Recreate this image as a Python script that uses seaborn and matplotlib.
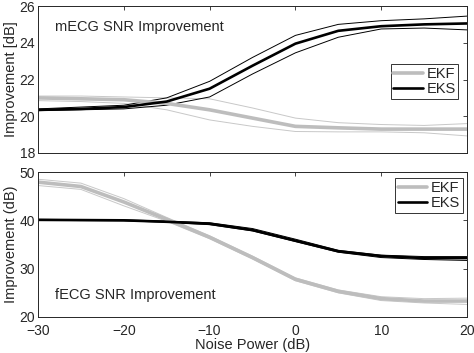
import numpy as np
import pandas as pd
import matplotlib
matplotlib.use("Agg")
import matplotlib.pyplot as plt
import seaborn as sns

# ==========================================
# data
# ==========================================
noise_db = [-30, -25, -20, -15, -10, -5, 0, 5, 10, 15, 20]

# mECG panel
m_eks_mean = [20.35, 20.4, 20.5, 20.8, 21.5, 22.75, 23.95, 24.65, 24.9, 25.0, 25.05]
m_eks_hi = [20.4, 20.5, 20.6, 21.0, 21.9, 23.2, 24.4, 25.0, 25.2, 25.3, 25.45]
m_eks_lo = [20.3, 20.35, 20.4, 20.6, 21.05, 22.3, 23.45, 24.3, 24.75, 24.8, 24.7]
m_ekf_mean = [21.0, 20.95, 20.9, 20.7, 20.35, 19.9, 19.45, 19.37, 19.3, 19.3, 19.3]
m_ekf_hi = [21.1, 21.1, 21.05, 21.0, 20.95, 20.45, 19.9, 19.65, 19.55, 19.5, 19.6]
m_ekf_lo = [20.85, 20.8, 20.7, 20.35, 19.8, 19.45, 19.17, 19.15, 19.15, 19.1, 18.93]

# fECG panel
f_ekf_mean = [47.9, 47.0, 43.8, 40.2, 36.5, 32.3, 27.8, 25.3, 23.8, 23.3, 23.3]
f_ekf_hi = [48.5, 47.7, 44.5, 40.6, 36.8, 32.6, 28.1, 25.6, 24.2, 23.8, 23.9]
f_ekf_lo = [47.2, 46.4, 43.0, 39.8, 36.2, 32.0, 27.5, 25.0, 23.4, 22.9, 22.6]
f_eks_mean = [40.1, 40.05, 40.0, 39.7, 39.3, 38.0, 35.8, 33.6, 32.6, 32.2, 32.2]
f_eks_hi = [40.2, 40.15, 40.1, 39.85, 39.5, 38.3, 36.1, 33.8, 32.8, 32.5, 32.5]
f_eks_lo = [40.0, 39.95, 39.9, 39.6, 39.1, 37.8, 35.6, 33.4, 32.3, 31.9, 31.7]

GRAY = "#bdbdbd"
THIN_GRAY = "#c8c8c8"
BLACK = "#000000"
FS = 10.5
TICK_FS = 10


def draw_panel(ax, ekf, eks, legend_loc, legend_anchor):
    # thin envelope lines first, then thick means on top
    for vals in ekf[1:]:
        sns.lineplot(x=noise_db, y=vals, ax=ax, color=THIN_GRAY, linewidth=0.7)
    for vals in eks[1:]:
        sns.lineplot(x=noise_db, y=vals, ax=ax, color=BLACK, linewidth=0.7)
    sns.lineplot(x=noise_db, y=ekf[0], ax=ax, color=GRAY, linewidth=2.6, label="EKF")
    sns.lineplot(x=noise_db, y=eks[0], ax=ax, color=BLACK, linewidth=1.9, label="EKS")
    ax.set_xlim(-30, 20)
    ax.set_xticks([-30, -20, -10, 0, 10, 20])
    ax.tick_params(direction="in", top=True, right=True, length=3, width=0.6,
                   labelsize=TICK_FS, pad=2)
    ax.tick_params(axis="x", pad=5)
    for s in ax.spines.values():
        s.set_linewidth(0.7)
    leg = ax.legend(fontsize=FS, fancybox=False, edgecolor="black",
                    handlelength=2.0, handletextpad=0.25, borderpad=0.2,
                    labelspacing=0.1, borderaxespad=0.0,
                    loc=legend_loc, bbox_to_anchor=legend_anchor)
    leg.get_frame().set_linewidth(0.7)
    return leg


sns.set_style("white")
plt.rcParams['font.family'] = ['Liberation Sans', 'DejaVu Sans']

fig = plt.figure(figsize=(4.74, 3.53), dpi=100)
ax1 = fig.add_axes([38 / 474, 1 - 153 / 353, 429 / 474, 147 / 353])
ax2 = fig.add_axes([38 / 474, 1 - 317 / 353, 429 / 474, 145 / 353])

draw_panel(ax1, [m_ekf_mean, m_ekf_hi, m_ekf_lo], [m_eks_mean, m_eks_hi, m_eks_lo],
           "center right", (0.98, 0.485))
ax1.set_ylim(18, 26)
ax1.set_yticks([18, 20, 22, 24, 26])
ax1.set_xticklabels([])
ax1.set_ylabel("Improvement [dB]", fontsize=FS, labelpad=1)
ax1.text(0.04, 0.86, "mECG SNR Improvement", transform=ax1.transAxes, fontsize=FS,
         va="center", ha="left")

draw_panel(ax2, [f_ekf_mean, f_ekf_hi, f_ekf_lo], [f_eks_mean, f_eks_hi, f_eks_lo],
           "upper right", (0.99, 0.96))
ax2.set_ylim(20, 50)
ax2.set_yticks([20, 30, 40, 50])
ax2.set_ylabel("Improvement (dB)", fontsize=FS, labelpad=1)
ax2.set_xlabel("Noise Power (dB)", fontsize=FS, labelpad=0)
ax2.text(0.04, 0.15, "fECG SNR Improvement", transform=ax2.transAxes, fontsize=FS,
         va="center", ha="left")

fig.savefig("out.png", dpi=100)
